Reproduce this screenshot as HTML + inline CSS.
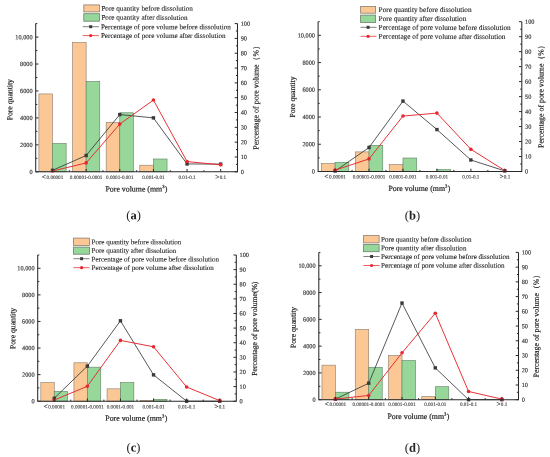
<!DOCTYPE html>
<html><head><meta charset="utf-8"><title>Figure</title>
<style>html,body{margin:0;padding:0;background:#fff}svg{display:block}text{font-family:"Liberation Serif", serif;text-rendering:geometricPrecision}</style>
</head><body>
<svg width="550" height="457" viewBox="0 0 550 457">
<rect width="550" height="457" fill="#fff"/>
<g><rect x="38.9" y="93.93" width="13.62" height="77.87" fill="#fbc795" stroke="#8a7a6a" stroke-width="0.6"/><rect x="52.52" y="143.51" width="13.62" height="28.29" fill="#97d79a" stroke="#5f7f62" stroke-width="0.6"/><rect x="72.53" y="42.46" width="13.62" height="129.34" fill="#fbc795" stroke="#8a7a6a" stroke-width="0.6"/><rect x="86.15" y="81.53" width="13.62" height="90.27" fill="#97d79a" stroke="#5f7f62" stroke-width="0.6"/><rect x="106.16" y="122.36" width="13.62" height="49.44" fill="#fbc795" stroke="#8a7a6a" stroke-width="0.6"/><rect x="119.78" y="112.79" width="13.62" height="59.01" fill="#97d79a" stroke="#5f7f62" stroke-width="0.6"/><rect x="139.8" y="165.2" width="13.62" height="6.6" fill="#fbc795" stroke="#8a7a6a" stroke-width="0.6"/><rect x="153.42" y="159" width="13.62" height="12.8" fill="#97d79a" stroke="#5f7f62" stroke-width="0.6"/><polyline points="52.52,170.32 86.15,155.5 119.78,114.59 153.42,117.86 187.05,163.95 220.68,164.09" fill="none" stroke="#3a3a3a" stroke-width="0.85"/><rect x="50.82" y="168.62" width="3.4" height="3.4" fill="#3a3a3a"/><rect x="84.45" y="153.8" width="3.4" height="3.4" fill="#3a3a3a"/><rect x="118.08" y="112.89" width="3.4" height="3.4" fill="#3a3a3a"/><rect x="151.72" y="116.16" width="3.4" height="3.4" fill="#3a3a3a"/><rect x="185.35" y="162.25" width="3.4" height="3.4" fill="#3a3a3a"/><rect x="218.98" y="162.39" width="3.4" height="3.4" fill="#3a3a3a"/><polyline points="52.52,171.06 86.15,162.91 119.78,124.08 153.42,100.07 187.05,161.57 220.68,164.83" fill="none" stroke="#e8262d" stroke-width="0.95"/><circle cx="52.52" cy="171.06" r="1.8" fill="#e8262d"/><circle cx="86.15" cy="162.91" r="1.8" fill="#e8262d"/><circle cx="119.78" cy="124.08" r="1.8" fill="#e8262d"/><circle cx="153.42" cy="100.07" r="1.8" fill="#e8262d"/><circle cx="187.05" cy="161.57" r="1.8" fill="#e8262d"/><circle cx="220.68" cy="164.83" r="1.8" fill="#e8262d"/><path d="M35.7 23.6V171.8H237.5V23.6" fill="none" stroke="#2a2a2a" stroke-width="1.05"/><path d="M35.7 171.8h2.8M35.7 158.33h1.6M35.7 144.85h2.8M35.7 131.38h1.6M35.7 117.91h2.8M35.7 104.44h1.6M35.7 90.96h2.8M35.7 77.49h1.6M35.7 64.02h2.8M35.7 50.55h1.6M35.7 37.07h2.8M35.7 23.6h1.6M237.5 171.8h-2.8M237.5 164.39h-1.6M237.5 156.98h-2.8M237.5 149.57h-1.6M237.5 142.16h-2.8M237.5 134.75h-1.6M237.5 127.34h-2.8M237.5 119.93h-1.6M237.5 112.52h-2.8M237.5 105.11h-1.6M237.5 97.7h-2.8M237.5 90.29h-1.6M237.5 82.88h-2.8M237.5 75.47h-1.6M237.5 68.06h-2.8M237.5 60.65h-1.6M237.5 53.24h-2.8M237.5 45.83h-1.6M237.5 38.42h-2.8M237.5 31.01h-1.6M237.5 23.6h-2.8M52.52 171.8v-2.8M69.33 171.8v-1.6M86.15 171.8v-2.8M102.97 171.8v-1.6M119.78 171.8v-2.8M136.6 171.8v-1.6M153.42 171.8v-2.8M170.23 171.8v-1.6M187.05 171.8v-2.8M203.87 171.8v-1.6M220.68 171.8v-2.8" fill="none" stroke="#2a2a2a" stroke-width="1.0"/><text x="32.5" y="173.9" transform="rotate(0.03 32.5 173.9)" text-anchor="end" font-size="6.25" fill="#333" stroke="#333" stroke-width="0.15">0</text><text x="32.5" y="146.95" transform="rotate(0.03 32.5 146.95)" text-anchor="end" font-size="6.25" fill="#333" stroke="#333" stroke-width="0.15">2000</text><text x="32.5" y="120.01" transform="rotate(0.03 32.5 120.01)" text-anchor="end" font-size="6.25" fill="#333" stroke="#333" stroke-width="0.15">4000</text><text x="32.5" y="93.06" transform="rotate(0.03 32.5 93.06)" text-anchor="end" font-size="6.25" fill="#333" stroke="#333" stroke-width="0.15">6000</text><text x="32.5" y="66.12" transform="rotate(0.03 32.5 66.12)" text-anchor="end" font-size="6.25" fill="#333" stroke="#333" stroke-width="0.15">8000</text><text x="32.5" y="39.17" transform="rotate(0.03 32.5 39.17)" text-anchor="end" font-size="6.25" fill="#333" stroke="#333" stroke-width="0.15">10,000</text><text x="240.7" y="173.9" transform="rotate(0.03 240.7 173.9)" font-size="6.25" fill="#333" stroke="#333" stroke-width="0.15">0</text><text x="240.7" y="159.08" transform="rotate(0.03 240.7 159.08)" font-size="6.25" fill="#333" stroke="#333" stroke-width="0.15">10</text><text x="240.7" y="144.26" transform="rotate(0.03 240.7 144.26)" font-size="6.25" fill="#333" stroke="#333" stroke-width="0.15">20</text><text x="240.7" y="129.44" transform="rotate(0.03 240.7 129.44)" font-size="6.25" fill="#333" stroke="#333" stroke-width="0.15">30</text><text x="240.7" y="114.62" transform="rotate(0.03 240.7 114.62)" font-size="6.25" fill="#333" stroke="#333" stroke-width="0.15">40</text><text x="240.7" y="99.8" transform="rotate(0.03 240.7 99.8)" font-size="6.25" fill="#333" stroke="#333" stroke-width="0.15">50</text><text x="240.7" y="84.98" transform="rotate(0.03 240.7 84.98)" font-size="6.25" fill="#333" stroke="#333" stroke-width="0.15">60</text><text x="240.7" y="70.16" transform="rotate(0.03 240.7 70.16)" font-size="6.25" fill="#333" stroke="#333" stroke-width="0.15">70</text><text x="240.7" y="55.34" transform="rotate(0.03 240.7 55.34)" font-size="6.25" fill="#333" stroke="#333" stroke-width="0.15">80</text><text x="240.7" y="40.52" transform="rotate(0.03 240.7 40.52)" font-size="6.25" fill="#333" stroke="#333" stroke-width="0.15">90</text><text x="240.7" y="25.7" transform="rotate(0.03 240.7 25.7)" font-size="6.25" fill="#333" stroke="#333" stroke-width="0.15">100</text><text x="52.52" y="179" transform="rotate(0.03 52.52 179)" text-anchor="middle" font-size="5.15" fill="#444" stroke="#444" stroke-width="0.12"><tspan font-size="7.4" stroke="#444" stroke-width="0.2" dy="0.2">&lt;</tspan><tspan dx="0.6" dy="-0.2">0.00001</tspan></text><text x="86.15" y="179" transform="rotate(0.03 86.15 179)" text-anchor="middle" font-size="5.15" fill="#444" stroke="#444" stroke-width="0.12">0.00001-0.0001</text><text x="119.78" y="179" transform="rotate(0.03 119.78 179)" text-anchor="middle" font-size="5.15" fill="#444" stroke="#444" stroke-width="0.12">0.0001-0.001</text><text x="153.42" y="179" transform="rotate(0.03 153.42 179)" text-anchor="middle" font-size="5.15" fill="#444" stroke="#444" stroke-width="0.12">0.001-0.01</text><text x="187.05" y="179" transform="rotate(0.03 187.05 179)" text-anchor="middle" font-size="5.15" fill="#444" stroke="#444" stroke-width="0.12">0.01-0.1</text><text x="220.68" y="179" transform="rotate(0.03 220.68 179)" text-anchor="middle" font-size="5.15" fill="#444" stroke="#444" stroke-width="0.12"><tspan font-size="7.4" stroke="#444" stroke-width="0.2" dy="0.2">&gt;</tspan><tspan dx="0.2" dy="-0.2">0.1</tspan></text><text x="136.5" y="191.5" transform="rotate(0.03 136.5 191.5)" text-anchor="middle" font-size="7.85" fill="#222" stroke="#222" stroke-width="0.2">Pore volume (mm<tspan font-size="4.6" dy="-3.4">3</tspan><tspan dy="3.4" dx="0.4">)</tspan></text><text transform="translate(12.2 99.7) rotate(-89.97)" text-anchor="middle" font-size="7.7" fill="#222" stroke="#222" stroke-width="0.18">Pore quantity</text><text transform="translate(258.5 149.7) rotate(-89.97)" font-size="7.95" fill="#222" stroke="#222" stroke-width="0.18" font-family='"Liberation Serif","Noto Serif CJK SC",serif'>Percentage of pore volume（%）</text><rect x="83.8" y="4.9" width="15.6" height="7" fill="#fbc795" stroke="#8d7f74" stroke-width="0.8"/><rect x="83.8" y="13.7" width="15.6" height="7.5" fill="#97d79a" stroke="#6b7f6d" stroke-width="0.8"/><path d="M82.8 26.7H98.9" stroke="#555" stroke-width="0.75"/><rect x="89.2" y="25.2" width="3" height="3" fill="#3a3a3a"/><path d="M82.8 35.6H98.9" stroke="#e8262d" stroke-width="0.75"/><circle cx="90.7" cy="35.6" r="1.6" fill="#e8262d"/><text x="101.4" y="10.65" transform="rotate(0.03 101.4 10.65)" font-size="7.15" fill="#222" stroke="#222" stroke-width="0.1">Pore quantity before dissolution</text><text x="101.4" y="19.85" transform="rotate(0.03 101.4 19.85)" font-size="7.15" fill="#222" stroke="#222" stroke-width="0.1">Pore quantity after dissolution</text><text x="100.9" y="29.15" transform="rotate(0.03 100.9 29.15)" font-size="7.15" fill="#222" stroke="#222" stroke-width="0.1">Percentage of pore volume before dissolution</text><text x="100.9" y="38.05" transform="rotate(0.03 100.9 38.05)" font-size="7.15" fill="#222" stroke="#222" stroke-width="0.1">Percentage of pore volume after dissolution</text><text x="133.5" y="219.3" transform="rotate(0.03 133.5 219.3)" text-anchor="middle" font-size="12.5" fill="#222">(<tspan font-weight="bold">a</tspan>)</text></g>
<g><rect x="321.33" y="163.53" width="13.75" height="7.97" fill="#fbc795" stroke="#8a7a6a" stroke-width="0.6"/><rect x="335.08" y="162.38" width="13.75" height="9.12" fill="#97d79a" stroke="#5f7f62" stroke-width="0.6"/><rect x="355.28" y="151.89" width="13.75" height="19.61" fill="#fbc795" stroke="#8a7a6a" stroke-width="0.6"/><rect x="369.03" y="145.35" width="13.75" height="26.15" fill="#97d79a" stroke="#5f7f62" stroke-width="0.6"/><rect x="389.23" y="164.69" width="13.75" height="6.81" fill="#fbc795" stroke="#8a7a6a" stroke-width="0.6"/><rect x="402.98" y="158.02" width="13.75" height="13.48" fill="#97d79a" stroke="#5f7f62" stroke-width="0.6"/><rect x="436.93" y="169.59" width="13.75" height="1.91" fill="#97d79a" stroke="#5f7f62" stroke-width="0.6"/><polyline points="335.08,171.05 369.03,147.53 402.98,101.09 436.93,129.56 470.88,159.97 504.82,170.9" fill="none" stroke="#3a3a3a" stroke-width="0.85"/><rect x="333.38" y="169.35" width="3.4" height="3.4" fill="#3a3a3a"/><rect x="367.33" y="145.83" width="3.4" height="3.4" fill="#3a3a3a"/><rect x="401.28" y="99.39" width="3.4" height="3.4" fill="#3a3a3a"/><rect x="435.23" y="127.86" width="3.4" height="3.4" fill="#3a3a3a"/><rect x="469.18" y="158.27" width="3.4" height="3.4" fill="#3a3a3a"/><rect x="503.12" y="169.2" width="3.4" height="3.4" fill="#3a3a3a"/><polyline points="335.08,170.15 369.03,158.92 402.98,116.07 436.93,113.08 470.88,149.33 504.82,170.6" fill="none" stroke="#e8262d" stroke-width="0.95"/><circle cx="335.08" cy="170.15" r="1.8" fill="#e8262d"/><circle cx="369.03" cy="158.92" r="1.8" fill="#e8262d"/><circle cx="402.98" cy="116.07" r="1.8" fill="#e8262d"/><circle cx="436.93" cy="113.08" r="1.8" fill="#e8262d"/><circle cx="470.88" cy="149.33" r="1.8" fill="#e8262d"/><circle cx="504.82" cy="170.6" r="1.8" fill="#e8262d"/><path d="M318.1 21.7V171.5H521.8V21.7" fill="none" stroke="#2a2a2a" stroke-width="1.05"/><path d="M318.1 171.5h2.8M318.1 157.88h1.6M318.1 144.26h2.8M318.1 130.65h1.6M318.1 117.03h2.8M318.1 103.41h1.6M318.1 89.79h2.8M318.1 76.17h1.6M318.1 62.55h2.8M318.1 48.94h1.6M318.1 35.32h2.8M318.1 21.7h1.6M521.8 171.5h-2.8M521.8 164.01h-1.6M521.8 156.52h-2.8M521.8 149.03h-1.6M521.8 141.54h-2.8M521.8 134.05h-1.6M521.8 126.56h-2.8M521.8 119.07h-1.6M521.8 111.58h-2.8M521.8 104.09h-1.6M521.8 96.6h-2.8M521.8 89.11h-1.6M521.8 81.62h-2.8M521.8 74.13h-1.6M521.8 66.64h-2.8M521.8 59.15h-1.6M521.8 51.66h-2.8M521.8 44.17h-1.6M521.8 36.68h-2.8M521.8 29.19h-1.6M521.8 21.7h-2.8M335.08 171.5v-2.8M352.05 171.5v-1.6M369.03 171.5v-2.8M386 171.5v-1.6M402.98 171.5v-2.8M419.95 171.5v-1.6M436.93 171.5v-2.8M453.9 171.5v-1.6M470.88 171.5v-2.8M487.85 171.5v-1.6M504.82 171.5v-2.8" fill="none" stroke="#2a2a2a" stroke-width="1.0"/><text x="314.9" y="173.6" transform="rotate(0.03 314.9 173.6)" text-anchor="end" font-size="6.25" fill="#333" stroke="#333" stroke-width="0.15">0</text><text x="314.9" y="146.36" transform="rotate(0.03 314.9 146.36)" text-anchor="end" font-size="6.25" fill="#333" stroke="#333" stroke-width="0.15">2000</text><text x="314.9" y="119.13" transform="rotate(0.03 314.9 119.13)" text-anchor="end" font-size="6.25" fill="#333" stroke="#333" stroke-width="0.15">4000</text><text x="314.9" y="91.89" transform="rotate(0.03 314.9 91.89)" text-anchor="end" font-size="6.25" fill="#333" stroke="#333" stroke-width="0.15">6000</text><text x="314.9" y="64.65" transform="rotate(0.03 314.9 64.65)" text-anchor="end" font-size="6.25" fill="#333" stroke="#333" stroke-width="0.15">8000</text><text x="314.9" y="37.42" transform="rotate(0.03 314.9 37.42)" text-anchor="end" font-size="6.25" fill="#333" stroke="#333" stroke-width="0.15">10,000</text><text x="525" y="173.6" transform="rotate(0.03 525 173.6)" font-size="6.25" fill="#333" stroke="#333" stroke-width="0.15">0</text><text x="525" y="158.62" transform="rotate(0.03 525 158.62)" font-size="6.25" fill="#333" stroke="#333" stroke-width="0.15">10</text><text x="525" y="143.64" transform="rotate(0.03 525 143.64)" font-size="6.25" fill="#333" stroke="#333" stroke-width="0.15">20</text><text x="525" y="128.66" transform="rotate(0.03 525 128.66)" font-size="6.25" fill="#333" stroke="#333" stroke-width="0.15">30</text><text x="525" y="113.68" transform="rotate(0.03 525 113.68)" font-size="6.25" fill="#333" stroke="#333" stroke-width="0.15">40</text><text x="525" y="98.7" transform="rotate(0.03 525 98.7)" font-size="6.25" fill="#333" stroke="#333" stroke-width="0.15">50</text><text x="525" y="83.72" transform="rotate(0.03 525 83.72)" font-size="6.25" fill="#333" stroke="#333" stroke-width="0.15">60</text><text x="525" y="68.74" transform="rotate(0.03 525 68.74)" font-size="6.25" fill="#333" stroke="#333" stroke-width="0.15">70</text><text x="525" y="53.76" transform="rotate(0.03 525 53.76)" font-size="6.25" fill="#333" stroke="#333" stroke-width="0.15">80</text><text x="525" y="38.78" transform="rotate(0.03 525 38.78)" font-size="6.25" fill="#333" stroke="#333" stroke-width="0.15">90</text><text x="525" y="23.8" transform="rotate(0.03 525 23.8)" font-size="6.25" fill="#333" stroke="#333" stroke-width="0.15">100</text><text x="335.08" y="178.5" transform="rotate(0.03 335.08 178.5)" text-anchor="middle" font-size="5.15" fill="#444" stroke="#444" stroke-width="0.12"><tspan font-size="7.4" stroke="#444" stroke-width="0.2" dy="0.2">&lt;</tspan><tspan dx="0.6" dy="-0.2">0.00001</tspan></text><text x="369.03" y="178.5" transform="rotate(0.03 369.03 178.5)" text-anchor="middle" font-size="5.15" fill="#444" stroke="#444" stroke-width="0.12">0.00001-0.0001</text><text x="402.98" y="178.5" transform="rotate(0.03 402.98 178.5)" text-anchor="middle" font-size="5.15" fill="#444" stroke="#444" stroke-width="0.12">0.0001-0.001</text><text x="436.93" y="178.5" transform="rotate(0.03 436.93 178.5)" text-anchor="middle" font-size="5.15" fill="#444" stroke="#444" stroke-width="0.12">0.001-0.01</text><text x="470.88" y="178.5" transform="rotate(0.03 470.88 178.5)" text-anchor="middle" font-size="5.15" fill="#444" stroke="#444" stroke-width="0.12">0.01-0.1</text><text x="504.82" y="178.5" transform="rotate(0.03 504.82 178.5)" text-anchor="middle" font-size="5.15" fill="#444" stroke="#444" stroke-width="0.12"><tspan font-size="7.4" stroke="#444" stroke-width="0.2" dy="0.2">&gt;</tspan><tspan dx="0.2" dy="-0.2">0.1</tspan></text><text x="419.4" y="191" transform="rotate(0.03 419.4 191)" text-anchor="middle" font-size="7.85" fill="#222" stroke="#222" stroke-width="0.2">Pore volume (mm<tspan font-size="4.6" dy="-3.4">3</tspan><tspan dy="3.4" dx="0.4">)</tspan></text><text transform="translate(295 97) rotate(-89.97)" text-anchor="middle" font-size="7.7" fill="#222" stroke="#222" stroke-width="0.18">Pore quantity</text><text transform="translate(543.4 147.9) rotate(-89.97)" font-size="7.85" fill="#222" stroke="#222" stroke-width="0.18" font-family='"Liberation Serif","Noto Serif CJK SC",serif'>Percentage of pore volume（%）</text><rect x="360.6" y="6.4" width="15" height="6.8" fill="#fbc795" stroke="#8d7f74" stroke-width="0.8"/><rect x="360.6" y="15.1" width="15" height="7.4" fill="#97d79a" stroke="#6b7f6d" stroke-width="0.8"/><path d="M360.5 27.3H376.5" stroke="#555" stroke-width="0.75"/><rect x="366.6" y="25.8" width="3" height="3" fill="#3a3a3a"/><path d="M360.5 36.3H376.5" stroke="#e8262d" stroke-width="0.75"/><circle cx="368.1" cy="36.3" r="1.6" fill="#e8262d"/><text x="378.6" y="12.05" transform="rotate(0.03 378.6 12.05)" font-size="7.27" fill="#222" stroke="#222" stroke-width="0.1">Pore quantity before dissolution</text><text x="378.6" y="20.95" transform="rotate(0.03 378.6 20.95)" font-size="7.27" fill="#222" stroke="#222" stroke-width="0.1">Pore quantity after dissolution</text><text x="378.6" y="29.85" transform="rotate(0.03 378.6 29.85)" font-size="7.27" fill="#222" stroke="#222" stroke-width="0.1">Percentage of pore volume before dissolution</text><text x="378.6" y="38.85" transform="rotate(0.03 378.6 38.85)" font-size="7.27" fill="#222" stroke="#222" stroke-width="0.1">Percentage of pore volume after dissolution</text><text x="412.5" y="219.6" transform="rotate(0.03 412.5 219.6)" text-anchor="middle" font-size="12.5" fill="#222">(<tspan font-weight="bold">b</tspan>)</text></g>
<g><rect x="40.84" y="382.59" width="13.41" height="18.61" fill="#fbc795" stroke="#8a7a6a" stroke-width="0.6"/><rect x="54.25" y="391.36" width="13.41" height="9.84" fill="#97d79a" stroke="#5f7f62" stroke-width="0.6"/><rect x="73.94" y="362.79" width="13.41" height="38.41" fill="#fbc795" stroke="#8a7a6a" stroke-width="0.6"/><rect x="87.35" y="367.18" width="13.41" height="34.02" fill="#97d79a" stroke="#5f7f62" stroke-width="0.6"/><rect x="107.04" y="388.84" width="13.41" height="12.36" fill="#fbc795" stroke="#8a7a6a" stroke-width="0.6"/><rect x="120.45" y="382.59" width="13.41" height="18.61" fill="#97d79a" stroke="#5f7f62" stroke-width="0.6"/><rect x="140.14" y="400.67" width="13.41" height="0.53" fill="#fbc795" stroke="#8a7a6a" stroke-width="0.6"/><rect x="153.55" y="399.34" width="13.41" height="1.86" fill="#97d79a" stroke="#5f7f62" stroke-width="0.6"/><polyline points="54.25,398.28 87.35,366.11 120.45,320.79 153.55,374.88 186.65,401.2 219.75,401.2" fill="none" stroke="#3a3a3a" stroke-width="0.85"/><rect x="52.55" y="396.58" width="3.4" height="3.4" fill="#3a3a3a"/><rect x="85.65" y="364.41" width="3.4" height="3.4" fill="#3a3a3a"/><rect x="118.75" y="319.09" width="3.4" height="3.4" fill="#3a3a3a"/><rect x="151.85" y="373.18" width="3.4" height="3.4" fill="#3a3a3a"/><rect x="184.95" y="399.5" width="3.4" height="3.4" fill="#3a3a3a"/><rect x="218.05" y="399.5" width="3.4" height="3.4" fill="#3a3a3a"/><polyline points="54.25,400.03 87.35,386.29 120.45,340.38 153.55,346.81 186.65,387.02 219.75,400.62" fill="none" stroke="#e8262d" stroke-width="0.95"/><circle cx="54.25" cy="400.03" r="1.8" fill="#e8262d"/><circle cx="87.35" cy="386.29" r="1.8" fill="#e8262d"/><circle cx="120.45" cy="340.38" r="1.8" fill="#e8262d"/><circle cx="153.55" cy="346.81" r="1.8" fill="#e8262d"/><circle cx="186.65" cy="387.02" r="1.8" fill="#e8262d"/><circle cx="219.75" cy="400.62" r="1.8" fill="#e8262d"/><path d="M37.7 255V401.2H236.3V255" fill="none" stroke="#2a2a2a" stroke-width="1.05"/><path d="M37.7 401.2h2.8M37.7 387.91h1.6M37.7 374.62h2.8M37.7 361.33h1.6M37.7 348.04h2.8M37.7 334.75h1.6M37.7 321.45h2.8M37.7 308.16h1.6M37.7 294.87h2.8M37.7 281.58h1.6M37.7 268.29h2.8M37.7 255h1.6M236.3 401.2h-2.8M236.3 393.89h-1.6M236.3 386.58h-2.8M236.3 379.27h-1.6M236.3 371.96h-2.8M236.3 364.65h-1.6M236.3 357.34h-2.8M236.3 350.03h-1.6M236.3 342.72h-2.8M236.3 335.41h-1.6M236.3 328.1h-2.8M236.3 320.79h-1.6M236.3 313.48h-2.8M236.3 306.17h-1.6M236.3 298.86h-2.8M236.3 291.55h-1.6M236.3 284.24h-2.8M236.3 276.93h-1.6M236.3 269.62h-2.8M236.3 262.31h-1.6M236.3 255h-2.8M54.25 401.2v-2.8M70.8 401.2v-1.6M87.35 401.2v-2.8M103.9 401.2v-1.6M120.45 401.2v-2.8M137 401.2v-1.6M153.55 401.2v-2.8M170.1 401.2v-1.6M186.65 401.2v-2.8M203.2 401.2v-1.6M219.75 401.2v-2.8" fill="none" stroke="#2a2a2a" stroke-width="1.0"/><text x="34.5" y="403.3" transform="rotate(0.03 34.5 403.3)" text-anchor="end" font-size="6.25" fill="#333" stroke="#333" stroke-width="0.15">0</text><text x="34.5" y="376.72" transform="rotate(0.03 34.5 376.72)" text-anchor="end" font-size="6.25" fill="#333" stroke="#333" stroke-width="0.15">2000</text><text x="34.5" y="350.14" transform="rotate(0.03 34.5 350.14)" text-anchor="end" font-size="6.25" fill="#333" stroke="#333" stroke-width="0.15">4000</text><text x="34.5" y="323.55" transform="rotate(0.03 34.5 323.55)" text-anchor="end" font-size="6.25" fill="#333" stroke="#333" stroke-width="0.15">6000</text><text x="34.5" y="296.97" transform="rotate(0.03 34.5 296.97)" text-anchor="end" font-size="6.25" fill="#333" stroke="#333" stroke-width="0.15">8000</text><text x="34.5" y="270.39" transform="rotate(0.03 34.5 270.39)" text-anchor="end" font-size="6.25" fill="#333" stroke="#333" stroke-width="0.15">10,000</text><text x="239.5" y="403.3" transform="rotate(0.03 239.5 403.3)" font-size="6.25" fill="#333" stroke="#333" stroke-width="0.15">0</text><text x="239.5" y="388.68" transform="rotate(0.03 239.5 388.68)" font-size="6.25" fill="#333" stroke="#333" stroke-width="0.15">10</text><text x="239.5" y="374.06" transform="rotate(0.03 239.5 374.06)" font-size="6.25" fill="#333" stroke="#333" stroke-width="0.15">20</text><text x="239.5" y="359.44" transform="rotate(0.03 239.5 359.44)" font-size="6.25" fill="#333" stroke="#333" stroke-width="0.15">30</text><text x="239.5" y="344.82" transform="rotate(0.03 239.5 344.82)" font-size="6.25" fill="#333" stroke="#333" stroke-width="0.15">40</text><text x="239.5" y="330.2" transform="rotate(0.03 239.5 330.2)" font-size="6.25" fill="#333" stroke="#333" stroke-width="0.15">50</text><text x="239.5" y="315.58" transform="rotate(0.03 239.5 315.58)" font-size="6.25" fill="#333" stroke="#333" stroke-width="0.15">60</text><text x="239.5" y="300.96" transform="rotate(0.03 239.5 300.96)" font-size="6.25" fill="#333" stroke="#333" stroke-width="0.15">70</text><text x="239.5" y="286.34" transform="rotate(0.03 239.5 286.34)" font-size="6.25" fill="#333" stroke="#333" stroke-width="0.15">80</text><text x="239.5" y="271.72" transform="rotate(0.03 239.5 271.72)" font-size="6.25" fill="#333" stroke="#333" stroke-width="0.15">90</text><text x="239.5" y="257.1" transform="rotate(0.03 239.5 257.1)" font-size="6.25" fill="#333" stroke="#333" stroke-width="0.15">100</text><text x="54.25" y="408.6" transform="rotate(0.03 54.25 408.6)" text-anchor="middle" font-size="5.15" fill="#444" stroke="#444" stroke-width="0.12"><tspan font-size="7.4" stroke="#444" stroke-width="0.2" dy="0.2">&lt;</tspan><tspan dx="0.6" dy="-0.2">0.00001</tspan></text><text x="87.35" y="408.6" transform="rotate(0.03 87.35 408.6)" text-anchor="middle" font-size="5.15" fill="#444" stroke="#444" stroke-width="0.12">0.00001-0.0001</text><text x="120.45" y="408.6" transform="rotate(0.03 120.45 408.6)" text-anchor="middle" font-size="5.15" fill="#444" stroke="#444" stroke-width="0.12">0.0001-0.001</text><text x="153.55" y="408.6" transform="rotate(0.03 153.55 408.6)" text-anchor="middle" font-size="5.15" fill="#444" stroke="#444" stroke-width="0.12">0.001-0.01</text><text x="186.65" y="408.6" transform="rotate(0.03 186.65 408.6)" text-anchor="middle" font-size="5.15" fill="#444" stroke="#444" stroke-width="0.12">0.01-0.1</text><text x="219.75" y="408.6" transform="rotate(0.03 219.75 408.6)" text-anchor="middle" font-size="5.15" fill="#444" stroke="#444" stroke-width="0.12"><tspan font-size="7.4" stroke="#444" stroke-width="0.2" dy="0.2">&gt;</tspan><tspan dx="0.2" dy="-0.2">0.1</tspan></text><text x="136.3" y="420.8" transform="rotate(0.03 136.3 420.8)" text-anchor="middle" font-size="7.85" fill="#222" stroke="#222" stroke-width="0.2">Pore volume (mm<tspan font-size="4.6" dy="-3.4">3</tspan><tspan dy="3.4" dx="0.4">)</tspan></text><text transform="translate(15.2 328.4) rotate(-89.97)" text-anchor="middle" font-size="7.7" fill="#222" stroke="#222" stroke-width="0.18">Pore quantity</text><text transform="translate(256.9 375.7) rotate(-89.97)" font-size="7.7" fill="#222" stroke="#222" stroke-width="0.18" font-family='"Liberation Serif","Noto Serif CJK SC",serif'>Percentage of pore volume(%)</text><rect x="73.5" y="238.1" width="15.9" height="7.4" fill="#fbc795" stroke="#8d7f74" stroke-width="0.8"/><rect x="73.5" y="247.1" width="15.9" height="7.1" fill="#97d79a" stroke="#6b7f6d" stroke-width="0.8"/><path d="M73.4 258.7H89.5" stroke="#555" stroke-width="0.75"/><rect x="80.1" y="257.2" width="3" height="3" fill="#3a3a3a"/><path d="M73.4 267.7H89.5" stroke="#e8262d" stroke-width="0.75"/><circle cx="81.6" cy="267.7" r="1.6" fill="#e8262d"/><text x="91.6" y="244.15" transform="rotate(0.03 91.6 244.15)" font-size="7.0" fill="#222" stroke="#222" stroke-width="0.1">Pore quantity before dissolution</text><text x="91.6" y="252.85" transform="rotate(0.03 91.6 252.85)" font-size="7.0" fill="#222" stroke="#222" stroke-width="0.1">Pore quantity after dissolution</text><text x="91.6" y="261.55" transform="rotate(0.03 91.6 261.55)" font-size="7.0" fill="#222" stroke="#222" stroke-width="0.1">Percentage of pore volume before dissolution</text><text x="91.6" y="270.05" transform="rotate(0.03 91.6 270.05)" font-size="7.0" fill="#222" stroke="#222" stroke-width="0.1">Percentage of pore volume after dissolution</text><text x="133.5" y="451.5" transform="rotate(0.03 133.5 451.5)" text-anchor="middle" font-size="12.5" fill="#222">(<tspan font-weight="bold">c</tspan>)</text></g>
<g><rect x="321.96" y="365.15" width="13.48" height="34.55" fill="#fbc795" stroke="#8a7a6a" stroke-width="0.6"/><rect x="335.44" y="392.2" width="13.48" height="7.5" fill="#97d79a" stroke="#5f7f62" stroke-width="0.6"/><rect x="355.25" y="329.4" width="13.48" height="70.3" fill="#fbc795" stroke="#8a7a6a" stroke-width="0.6"/><rect x="368.73" y="367.29" width="13.48" height="32.41" fill="#97d79a" stroke="#5f7f62" stroke-width="0.6"/><rect x="388.53" y="355.51" width="13.48" height="44.19" fill="#fbc795" stroke="#8a7a6a" stroke-width="0.6"/><rect x="402.01" y="360.6" width="13.48" height="39.1" fill="#97d79a" stroke="#5f7f62" stroke-width="0.6"/><rect x="421.81" y="396.62" width="13.48" height="3.08" fill="#fbc795" stroke="#8a7a6a" stroke-width="0.6"/><rect x="435.29" y="386.71" width="13.48" height="12.99" fill="#97d79a" stroke="#5f7f62" stroke-width="0.6"/><polyline points="335.44,399.11 368.73,383.2 402.01,303.07 435.29,367.88 468.57,399.7 501.86,399.7" fill="none" stroke="#3a3a3a" stroke-width="0.85"/><rect x="333.74" y="397.41" width="3.4" height="3.4" fill="#3a3a3a"/><rect x="367.03" y="381.5" width="3.4" height="3.4" fill="#3a3a3a"/><rect x="400.31" y="301.37" width="3.4" height="3.4" fill="#3a3a3a"/><rect x="433.59" y="366.18" width="3.4" height="3.4" fill="#3a3a3a"/><rect x="466.88" y="398" width="3.4" height="3.4" fill="#3a3a3a"/><rect x="500.16" y="398" width="3.4" height="3.4" fill="#3a3a3a"/><polyline points="335.44,399.11 368.73,395.43 402.01,352.86 435.29,313.23 468.57,391.45 501.86,399.11" fill="none" stroke="#e8262d" stroke-width="0.95"/><circle cx="335.44" cy="399.11" r="1.8" fill="#e8262d"/><circle cx="368.73" cy="395.43" r="1.8" fill="#e8262d"/><circle cx="402.01" cy="352.86" r="1.8" fill="#e8262d"/><circle cx="435.29" cy="313.23" r="1.8" fill="#e8262d"/><circle cx="468.57" cy="391.45" r="1.8" fill="#e8262d"/><circle cx="501.86" cy="399.11" r="1.8" fill="#e8262d"/><path d="M318.8 252.4V399.7H518.5V252.4" fill="none" stroke="#2a2a2a" stroke-width="1.05"/><path d="M318.8 399.7h2.8M318.8 386.31h1.6M318.8 372.92h2.8M318.8 359.53h1.6M318.8 346.14h2.8M318.8 332.75h1.6M318.8 319.35h2.8M318.8 305.96h1.6M318.8 292.57h2.8M318.8 279.18h1.6M318.8 265.79h2.8M318.8 252.4h1.6M518.5 399.7h-2.8M518.5 392.33h-1.6M518.5 384.97h-2.8M518.5 377.61h-1.6M518.5 370.24h-2.8M518.5 362.88h-1.6M518.5 355.51h-2.8M518.5 348.14h-1.6M518.5 340.78h-2.8M518.5 333.41h-1.6M518.5 326.05h-2.8M518.5 318.69h-1.6M518.5 311.32h-2.8M518.5 303.95h-1.6M518.5 296.59h-2.8M518.5 289.23h-1.6M518.5 281.86h-2.8M518.5 274.5h-1.6M518.5 267.13h-2.8M518.5 259.76h-1.6M518.5 252.4h-2.8M335.44 399.7v-2.8M352.08 399.7v-1.6M368.73 399.7v-2.8M385.37 399.7v-1.6M402.01 399.7v-2.8M418.65 399.7v-1.6M435.29 399.7v-2.8M451.93 399.7v-1.6M468.57 399.7v-2.8M485.22 399.7v-1.6M501.86 399.7v-2.8" fill="none" stroke="#2a2a2a" stroke-width="1.0"/><text x="315.6" y="401.8" transform="rotate(0.03 315.6 401.8)" text-anchor="end" font-size="6.25" fill="#333" stroke="#333" stroke-width="0.15">0</text><text x="315.6" y="375.02" transform="rotate(0.03 315.6 375.02)" text-anchor="end" font-size="6.25" fill="#333" stroke="#333" stroke-width="0.15">2000</text><text x="315.6" y="348.24" transform="rotate(0.03 315.6 348.24)" text-anchor="end" font-size="6.25" fill="#333" stroke="#333" stroke-width="0.15">4000</text><text x="315.6" y="321.45" transform="rotate(0.03 315.6 321.45)" text-anchor="end" font-size="6.25" fill="#333" stroke="#333" stroke-width="0.15">6000</text><text x="315.6" y="294.67" transform="rotate(0.03 315.6 294.67)" text-anchor="end" font-size="6.25" fill="#333" stroke="#333" stroke-width="0.15">8000</text><text x="315.6" y="267.89" transform="rotate(0.03 315.6 267.89)" text-anchor="end" font-size="6.25" fill="#333" stroke="#333" stroke-width="0.15">10,000</text><text x="521.7" y="401.8" transform="rotate(0.03 521.7 401.8)" font-size="6.25" fill="#333" stroke="#333" stroke-width="0.15">0</text><text x="521.7" y="387.07" transform="rotate(0.03 521.7 387.07)" font-size="6.25" fill="#333" stroke="#333" stroke-width="0.15">10</text><text x="521.7" y="372.34" transform="rotate(0.03 521.7 372.34)" font-size="6.25" fill="#333" stroke="#333" stroke-width="0.15">20</text><text x="521.7" y="357.61" transform="rotate(0.03 521.7 357.61)" font-size="6.25" fill="#333" stroke="#333" stroke-width="0.15">30</text><text x="521.7" y="342.88" transform="rotate(0.03 521.7 342.88)" font-size="6.25" fill="#333" stroke="#333" stroke-width="0.15">40</text><text x="521.7" y="328.15" transform="rotate(0.03 521.7 328.15)" font-size="6.25" fill="#333" stroke="#333" stroke-width="0.15">50</text><text x="521.7" y="313.42" transform="rotate(0.03 521.7 313.42)" font-size="6.25" fill="#333" stroke="#333" stroke-width="0.15">60</text><text x="521.7" y="298.69" transform="rotate(0.03 521.7 298.69)" font-size="6.25" fill="#333" stroke="#333" stroke-width="0.15">70</text><text x="521.7" y="283.96" transform="rotate(0.03 521.7 283.96)" font-size="6.25" fill="#333" stroke="#333" stroke-width="0.15">80</text><text x="521.7" y="269.23" transform="rotate(0.03 521.7 269.23)" font-size="6.25" fill="#333" stroke="#333" stroke-width="0.15">90</text><text x="521.7" y="254.5" transform="rotate(0.03 521.7 254.5)" font-size="6.25" fill="#333" stroke="#333" stroke-width="0.15">100</text><text x="335.44" y="406" transform="rotate(0.03 335.44 406)" text-anchor="middle" font-size="5.15" fill="#444" stroke="#444" stroke-width="0.12"><tspan font-size="7.4" stroke="#444" stroke-width="0.2" dy="0.2">&lt;</tspan><tspan dx="0.6" dy="-0.2">0.00001</tspan></text><text x="368.73" y="406" transform="rotate(0.03 368.73 406)" text-anchor="middle" font-size="5.15" fill="#444" stroke="#444" stroke-width="0.12">0.00001-0.0001</text><text x="402.01" y="406" transform="rotate(0.03 402.01 406)" text-anchor="middle" font-size="5.15" fill="#444" stroke="#444" stroke-width="0.12">0.0001-0.001</text><text x="435.29" y="406" transform="rotate(0.03 435.29 406)" text-anchor="middle" font-size="5.15" fill="#444" stroke="#444" stroke-width="0.12">0.001-0.01</text><text x="468.57" y="406" transform="rotate(0.03 468.57 406)" text-anchor="middle" font-size="5.15" fill="#444" stroke="#444" stroke-width="0.12">0.01-0.1</text><text x="501.86" y="406" transform="rotate(0.03 501.86 406)" text-anchor="middle" font-size="5.15" fill="#444" stroke="#444" stroke-width="0.12"><tspan font-size="7.4" stroke="#444" stroke-width="0.2" dy="0.2">&gt;</tspan><tspan dx="0.2" dy="-0.2">0.1</tspan></text><text x="418.4" y="418.9" transform="rotate(0.03 418.4 418.9)" text-anchor="middle" font-size="7.85" fill="#222" stroke="#222" stroke-width="0.2">Pore volume (mm<tspan font-size="4.6" dy="-3.4">3</tspan><tspan dy="3.4" dx="0.4">)</tspan></text><text transform="translate(295.8 327.4) rotate(-89.97)" text-anchor="middle" font-size="7.7" fill="#222" stroke="#222" stroke-width="0.18">Pore quantity</text><text transform="translate(538.8 377.4) rotate(-89.97)" font-size="7.85" fill="#222" stroke="#222" stroke-width="0.18" font-family='"Liberation Serif","Noto Serif CJK SC",serif'>Percentage of pore volume（%）</text><rect x="363.5" y="235.6" width="15.6" height="7.3" fill="#fbc795" stroke="#8d7f74" stroke-width="0.8"/><rect x="363.5" y="244.6" width="15.6" height="7.1" fill="#97d79a" stroke="#6b7f6d" stroke-width="0.8"/><path d="M363.4 256.5H379.5" stroke="#555" stroke-width="0.75"/><rect x="370.1" y="255" width="3" height="3" fill="#3a3a3a"/><path d="M363.4 265.5H379.5" stroke="#e8262d" stroke-width="0.75"/><circle cx="371.6" cy="265.5" r="1.6" fill="#e8262d"/><text x="381.1" y="241.75" transform="rotate(0.03 381.1 241.75)" font-size="7.07" fill="#222" stroke="#222" stroke-width="0.1">Pore quantity before dissolution</text><text x="381.1" y="250.35" transform="rotate(0.03 381.1 250.35)" font-size="7.07" fill="#222" stroke="#222" stroke-width="0.1">Pore quantity after dissolution</text><text x="381.1" y="259.05" transform="rotate(0.03 381.1 259.05)" font-size="7.07" fill="#222" stroke="#222" stroke-width="0.1">Percentage of pore volume before dissolution</text><text x="381.1" y="267.65" transform="rotate(0.03 381.1 267.65)" font-size="7.07" fill="#222" stroke="#222" stroke-width="0.1">Percentage of pore volume after dissolution</text><text x="412.4" y="451.7" transform="rotate(0.03 412.4 451.7)" text-anchor="middle" font-size="12.5" fill="#222">(<tspan font-weight="bold">d</tspan>)</text></g>
</svg>
</body></html>
